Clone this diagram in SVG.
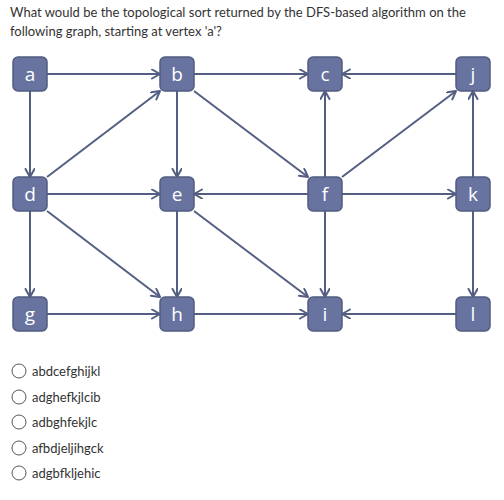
<svg xmlns="http://www.w3.org/2000/svg" width="504" height="500" viewBox="0 0 504 500">
<defs>
<marker id="arr" markerWidth="12" markerHeight="12" refX="9" refY="5" orient="auto" markerUnits="userSpaceOnUse">
<path d="M1,0.5 L9,5 L1,9.5" fill="none" stroke="#535e82" stroke-width="2" stroke-linejoin="round" stroke-linecap="round"/>
</marker>
</defs>
<style>
.q{font-family:Lato,"Open Sans",sans-serif;font-size:13px;fill:#333}
.n rect{fill:#6873a0;stroke:#515c80;stroke-width:1.5}
.n text{font-family:"Open Sans",Lato,sans-serif;font-size:19px;fill:#fff;text-anchor:middle}
.e line{stroke:#535e82;stroke-width:2;marker-end:url(#arr)}
.o{font-family:Lato,"Open Sans",sans-serif;font-size:13px;fill:#333}
.r{fill:#fff;stroke:#555;stroke-width:1}
</style>
<rect width="504" height="500" fill="#fff"/>
<text class="q" x="10" y="17">What would be the topological sort returned by the DFS-based algorithm on the</text>
<text class="q" x="10" y="36">following graph, starting at vertex 'a'?</text>
<g class="e" id="connectors">
<line x1="47" y1="74" x2="160" y2="74"/>
<line x1="30" y1="91" x2="30" y2="177"/>
<line x1="194" y1="74" x2="308" y2="74"/>
<line x1="177" y1="91" x2="177" y2="177"/>
<line x1="194" y1="91" x2="308" y2="177"/>
<line x1="47" y1="177" x2="160" y2="91"/>
<line x1="47" y1="194" x2="160" y2="194"/>
<line x1="30" y1="211" x2="30" y2="297"/>
<line x1="47" y1="211" x2="160" y2="297"/>
<line x1="177" y1="211" x2="177" y2="297"/>
<line x1="194" y1="211" x2="308" y2="297"/>
<line x1="308" y1="194" x2="194" y2="194"/>
<line x1="325" y1="177" x2="325" y2="91"/>
<line x1="342" y1="177" x2="456" y2="91"/>
<line x1="342" y1="194" x2="456" y2="194"/>
<line x1="325" y1="211" x2="325" y2="297"/>
<line x1="47" y1="314" x2="160" y2="314"/>
<line x1="194" y1="314" x2="308" y2="314"/>
<line x1="456" y1="74" x2="342" y2="74"/>
<line x1="473" y1="177" x2="473" y2="91"/>
<line x1="473" y1="211" x2="473" y2="297"/>
<line x1="456" y1="314" x2="342" y2="314"/>
</g>
<g class="n" id="a"><rect x="13" y="57" width="34" height="34" rx="5"/><text x="30" y="81">a</text></g>
<g class="n" id="b"><rect x="160" y="57" width="34" height="34" rx="5"/><text x="177" y="81">b</text></g>
<g class="n" id="c"><rect x="308" y="57" width="34" height="34" rx="5"/><text x="325" y="81">c</text></g>
<g class="n" id="j"><rect x="456" y="57" width="34" height="34" rx="5"/><text x="473" y="81">j</text></g>
<g class="n" id="d"><rect x="13" y="177" width="34" height="34" rx="5"/><text x="30" y="201">d</text></g>
<g class="n" id="e"><rect x="160" y="177" width="34" height="34" rx="5"/><text x="177" y="201">e</text></g>
<g class="n" id="f"><rect x="308" y="177" width="34" height="34" rx="5"/><text x="325" y="201">f</text></g>
<g class="n" id="k"><rect x="456" y="177" width="34" height="34" rx="5"/><text x="473" y="201">k</text></g>
<g class="n" id="g"><rect x="13" y="297" width="34" height="34" rx="5"/><text x="30" y="321">g</text></g>
<g class="n" id="h"><rect x="160" y="297" width="34" height="34" rx="5"/><text x="177" y="321">h</text></g>
<g class="n" id="i"><rect x="308" y="297" width="34" height="34" rx="5"/><text x="325" y="321">i</text></g>
<g class="n" id="l"><rect x="456" y="297" width="34" height="34" rx="5"/><text x="473" y="321">l</text></g>
<g id="options">
<circle class="r" cx="19" cy="371" r="7"/><text class="o" x="32" y="376">abdcefghijkl</text>
<circle class="r" cx="19" cy="397" r="7"/><text class="o" x="32" y="402">adghefkjlcib</text>
<circle class="r" cx="19" cy="422" r="7"/><text class="o" x="32" y="427">adbghfekjlc</text>
<circle class="r" cx="19" cy="448" r="7"/><text class="o" x="32" y="453">afbdjeljihgck</text>
<circle class="r" cx="19" cy="473" r="7"/><text class="o" x="32" y="478">adgbfkljehic</text>
</g>
</svg>
